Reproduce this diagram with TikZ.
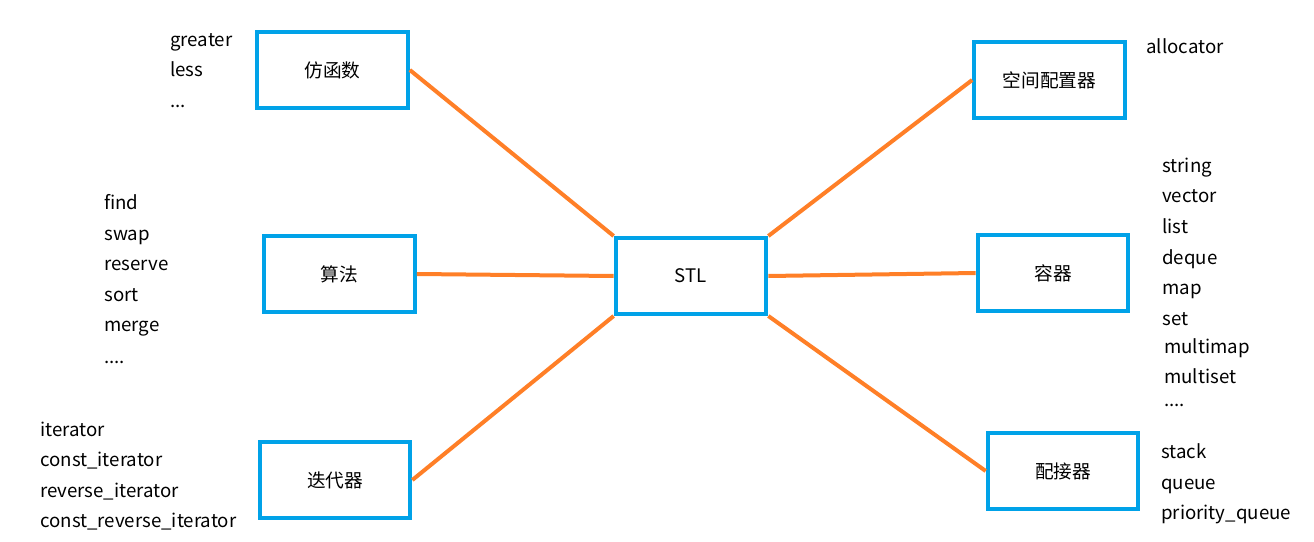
\documentclass[tikz,border=0pt]{standalone}
\usepackage{fontspec}
\setmainfont{Noto Sans CJK SC}
\definecolor{boxBlue}{HTML}{00A2E8}
\definecolor{linkOrange}{HTML}{FF7F27}
\newcommand\threedots{...}
\newcommand\fourdots{....}
\tikzset{
  part/.style={draw=boxBlue, line width=3pt, minimum width=113pt, minimum height=57pt,
    inner sep=0pt, font=\fontsize{14}{16}\selectfont},
  link/.style={linkOrange, line width=3pt},
  item/.style={anchor=base west, inner sep=0pt, yshift=-4.5pt, font=\fontsize{14}{16}\selectfont},
}

\begin{document}
\begin{tikzpicture}[x=0.75pt, y=-0.75pt]
  \useasboundingbox (0,0) rectangle (1314,542);
  % boxes
  \node[part] (stl)   at (691,276)    {STL};
  \node[part] (fn)    at (332.5,70)   {仿函数};
  \node[part] (alg)   at (339.5,274)  {算法};
  \node[part] (iter)  at (335,480)    {迭代器};
  \node[part] (alloc) at (1049.5,80)  {空间配置器};
  \node[part] (cont)  at (1053,273)   {容器};
  \node[part] (adapt) at (1063,471)   {配接器};
  % links
  \draw[link] (fn.east)  -- (stl.north west);
  \draw[link] (alg.east) -- (stl.west);
  \draw[link] (iter.east) -- (stl.south west);
  \draw[link] (stl.north east) -- (alloc.west);
  \draw[link] (stl.east) -- (cont.west);
  \draw[link] (stl.south east) -- (adapt.west);
  % item lists
  \foreach \t/\y [count=\i] in {greater/41, less/71, \threedots/102}
    \node[item] (fnitem\i) at (170,\y) {\t};
  \foreach \t/\y [count=\i] in {find/203, swap/234, reserve/264, sort/295, merge/325, \fourdots/357}
    \node[item] (algitem\i) at (104,\y) {\t};
  \foreach \t/\y [count=\i] in {iterator/430, const\_iterator/460, reverse\_iterator/491, const\_reverse\_iterator/521}
    \node[item] (iteritem\i) at (40,\y) {\t};
  \node[item] (allocitem1) at (1146,48) {allocator};
  \foreach \t/\y [count=\i] in {string/166, vector/196, list/227, deque/258, map/288, set/319}
    \node[item] (contitem\i) at (1162,\y) {\t};
  \foreach \t/\y [count=\i] in {multimap/347, multiset/377, \fourdots/400}
    \node[item] (contmore\i) at (1164,\y) {\t};
  \foreach \t/\y [count=\i] in {stack/452, queue/483, priority\_queue/513}
    \node[item] (adaptitem\i) at (1161,\y) {\t};
\end{tikzpicture}
\end{document}
